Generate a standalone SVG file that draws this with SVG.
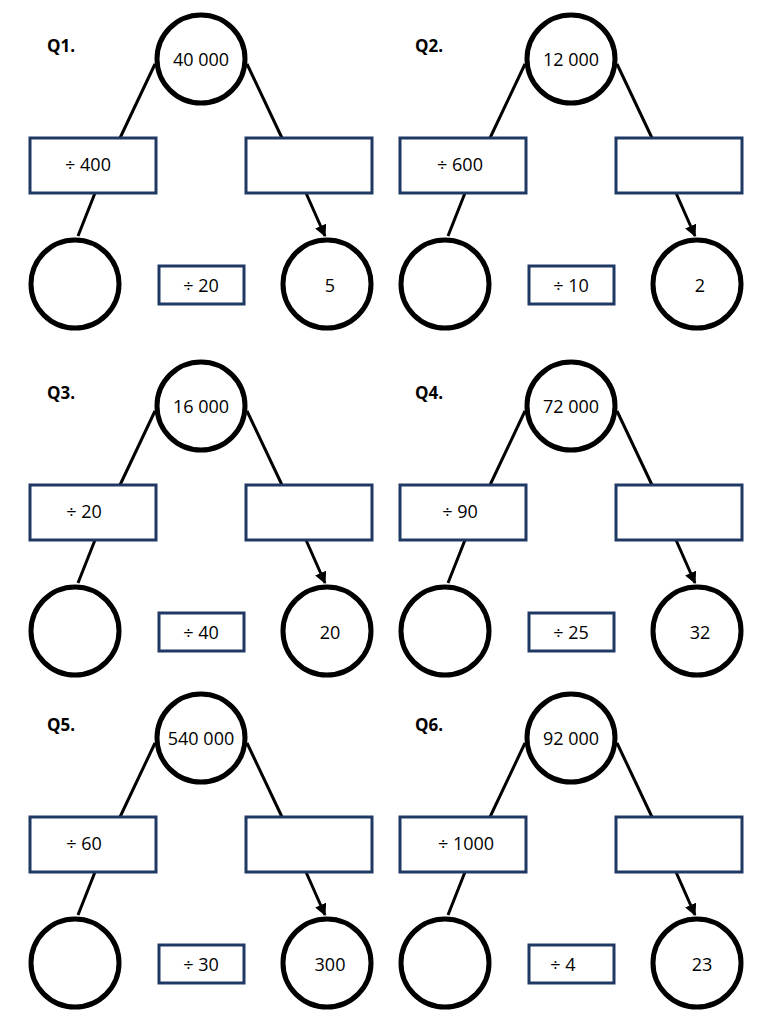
<svg xmlns="http://www.w3.org/2000/svg" width="768" height="1024" viewBox="0 0 768 1024">
<style>
.c{fill:#fff;stroke:#000;stroke-width:5}
.r{fill:#fff;stroke:#1f3864;stroke-width:3}
.l{stroke:#000;stroke-width:3;fill:none}
.t{font-family:"Open Sans","Liberation Sans",sans-serif;font-size:18px;text-anchor:middle;dominant-baseline:central;fill:#000}
.q{font-family:"Open Sans","Liberation Sans",sans-serif;font-size:17px;font-weight:bold;fill:#000}
</style>
<defs>
<marker id="a" viewBox="0 0 10 10" refX="9" refY="5" markerWidth="4" markerHeight="4" orient="auto"><path d="M0,0L10,5L0,10z" fill="#000"/></marker>
</defs>
<rect width="768" height="1024" fill="#fff"/>
<g id="connectors">
<g class="l">
<path d="M155,64L120,138M247,64L282,138"/><path d="M95,193L78,236M306,193L325,236" marker-end="url(#a)"/>
<path d="M525,64L490,138M617,64L652,138"/><path d="M465,193L448,236M676,193L695,236" marker-end="url(#a)"/>
<path d="M155,411L120,485M247,411L282,485"/><path d="M95,540L78,583M306,540L325,583" marker-end="url(#a)"/>
<path d="M525,411L490,485M617,411L652,485"/><path d="M465,540L448,583M676,540L695,583" marker-end="url(#a)"/>
<path d="M155,743L120,817M247,743L282,817"/><path d="M95,872L78,915M306,872L325,915" marker-end="url(#a)"/>
<path d="M525,743L490,817M617,743L652,817"/><path d="M465,872L448,915M676,872L695,915" marker-end="url(#a)"/>
</g>
</g>
<g id="q1">
<text class="q" x="47" y="52">Q1.</text>
<g id="q1-top"><circle class="c" cx="201" cy="59" r="44"/><text class="t" x="201" y="59">40 000</text></g>
<g id="q1-lb"><rect class="r" x="30" y="138" width="126" height="55"/><text class="t" x="88" y="164">÷ 400</text></g>
<g id="q1-rb"><rect class="r" x="246" y="138" width="126" height="55"/></g>
<g id="q1-bl"><circle class="c" cx="75" cy="284" r="44"/></g>
<g id="q1-mid"><rect class="r" x="159" y="266" width="85" height="38"/><text class="t" x="201" y="285">÷ 20</text></g>
<g id="q1-br"><circle class="c" cx="327" cy="284" r="44"/><text class="t" x="330" y="285">5</text></g>
</g>
<g id="q2">
<text class="q" x="415" y="52">Q2.</text>
<g id="q2-top"><circle class="c" cx="571" cy="59" r="44"/><text class="t" x="571" y="59">12 000</text></g>
<g id="q2-lb"><rect class="r" x="400" y="138" width="126" height="55"/><text class="t" x="460" y="164">÷ 600</text></g>
<g id="q2-rb"><rect class="r" x="616" y="138" width="126" height="55"/></g>
<g id="q2-bl"><circle class="c" cx="445" cy="284" r="44"/></g>
<g id="q2-mid"><rect class="r" x="529" y="266" width="85" height="38"/><text class="t" x="571" y="285">÷ 10</text></g>
<g id="q2-br"><circle class="c" cx="697" cy="284" r="44"/><text class="t" x="700" y="285">2</text></g>
</g>
<g id="q3">
<text class="q" x="47" y="399">Q3.</text>
<g id="q3-top"><circle class="c" cx="201" cy="406" r="44"/><text class="t" x="201" y="406">16 000</text></g>
<g id="q3-lb"><rect class="r" x="30" y="485" width="126" height="55"/><text class="t" x="84" y="511">÷ 20</text></g>
<g id="q3-rb"><rect class="r" x="246" y="485" width="126" height="55"/></g>
<g id="q3-bl"><circle class="c" cx="75" cy="631" r="44"/></g>
<g id="q3-mid"><rect class="r" x="159" y="613" width="85" height="38"/><text class="t" x="201" y="632">÷ 40</text></g>
<g id="q3-br"><circle class="c" cx="327" cy="631" r="44"/><text class="t" x="330" y="632">20</text></g>
</g>
<g id="q4">
<text class="q" x="415" y="399">Q4.</text>
<g id="q4-top"><circle class="c" cx="571" cy="406" r="44"/><text class="t" x="571" y="406">72 000</text></g>
<g id="q4-lb"><rect class="r" x="400" y="485" width="126" height="55"/><text class="t" x="460" y="511">÷ 90</text></g>
<g id="q4-rb"><rect class="r" x="616" y="485" width="126" height="55"/></g>
<g id="q4-bl"><circle class="c" cx="445" cy="631" r="44"/></g>
<g id="q4-mid"><rect class="r" x="529" y="613" width="85" height="38"/><text class="t" x="571" y="632">÷ 25</text></g>
<g id="q4-br"><circle class="c" cx="697" cy="631" r="44"/><text class="t" x="700" y="632">32</text></g>
</g>
<g id="q5">
<text class="q" x="47" y="731">Q5.</text>
<g id="q5-top"><circle class="c" cx="201" cy="738" r="44"/><text class="t" x="201" y="738">540 000</text></g>
<g id="q5-lb"><rect class="r" x="30" y="817" width="126" height="55"/><text class="t" x="84" y="843">÷ 60</text></g>
<g id="q5-rb"><rect class="r" x="246" y="817" width="126" height="55"/></g>
<g id="q5-bl"><circle class="c" cx="75" cy="963" r="44"/></g>
<g id="q5-mid"><rect class="r" x="159" y="945" width="85" height="38"/><text class="t" x="201" y="964">÷ 30</text></g>
<g id="q5-br"><circle class="c" cx="327" cy="963" r="44"/><text class="t" x="330" y="964">300</text></g>
</g>
<g id="q6">
<text class="q" x="415" y="731">Q6.</text>
<g id="q6-top"><circle class="c" cx="571" cy="738" r="44"/><text class="t" x="571" y="738">92 000</text></g>
<g id="q6-lb"><rect class="r" x="400" y="817" width="126" height="55"/><text class="t" x="466" y="843">÷ 1000</text></g>
<g id="q6-rb"><rect class="r" x="616" y="817" width="126" height="55"/></g>
<g id="q6-bl"><circle class="c" cx="445" cy="963" r="44"/></g>
<g id="q6-mid"><rect class="r" x="529" y="945" width="85" height="38"/><text class="t" x="563" y="964">÷ 4</text></g>
<g id="q6-br"><circle class="c" cx="697" cy="963" r="44"/><text class="t" x="702" y="964">23</text></g>
</g>
</svg>
